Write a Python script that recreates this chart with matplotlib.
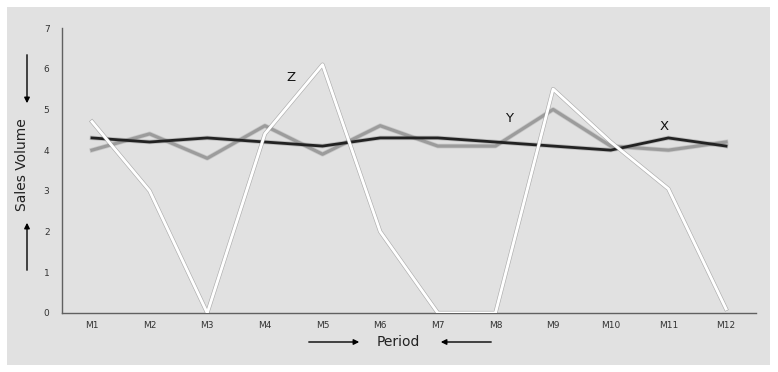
import matplotlib
matplotlib.use("Agg")
import matplotlib.pyplot as plt
import matplotlib.patheffects as pe
from matplotlib.patches import Rectangle, FancyArrowPatch

# Data
months = ['M1', 'M2', 'M3', 'M4', 'M5', 'M6', 'M7', 'M8', 'M9', 'M10', 'M11', 'M12']
x_vals = [4.3, 4.2, 4.3, 4.2, 4.1, 4.3, 4.3, 4.2, 4.1, 4.0, 4.3, 4.1]
y_vals = [4.0, 4.4, 3.8, 4.6, 3.9, 4.6, 4.1, 4.1, 5.0, 4.1, 4.0, 4.2]
z_vals = [4.7, 3.0, 0.0, 4.4, 6.1, 2.0, 0.0, 0.0, 5.5, 4.2, 3.05, 0.1]

pos = list(range(1, len(months) + 1))

fig = plt.figure(figsize=(7.78, 3.72), dpi=100)
fig.patch.set_facecolor('white')
# grey panel behind the chart
fig.add_artist(Rectangle((7 / 778, 1 - 365 / 372), 763 / 778, 358 / 372,
                         transform=fig.transFigure, facecolor='#e1e1e1',
                         edgecolor='none', zorder=-5))

ax = fig.add_axes([62 / 778, 1 - 313 / 372, 694 / 778, 285 / 372])
ax.set_facecolor('none')

ax.plot(pos, x_vals, color='#222222', lw=2.0, zorder=3,
        path_effects=[pe.Stroke(linewidth=3.2, foreground='#777777', alpha=0.35), pe.Normal()])
ax.plot(pos, y_vals, color='#9c9c9c', lw=2.3, zorder=2,
        path_effects=[pe.Stroke(linewidth=3.4, foreground='#b0b0b0', alpha=0.5), pe.Normal()])
ax.plot(pos, z_vals, color='white', lw=2.1, zorder=4,
        path_effects=[pe.Stroke(linewidth=3.0, foreground='#8a8a8a', alpha=0.6), pe.Normal()])

ax.set_xlim(0.48, 12.52)
ax.set_ylim(0, 7)
ax.set_xticks(pos)
ax.set_xticklabels(months, fontsize=6.5, color='#333333')
ax.set_yticks(range(0, 8))
ax.tick_params(axis='y', labelsize=6.5, colors='#333333', length=0, pad=9)
ax.tick_params(axis='x', length=0, pad=6)
for s in ['top', 'right']:
    ax.spines[s].set_visible(False)
for s in ['left', 'bottom']:
    ax.spines[s].set_color('#606060')
    ax.spines[s].set_linewidth(1.0)

# series labels
ax.text(4.45, 5.78, 'Z', fontsize=9.5, ha='center', va='center', color='#111111')
ax.text(8.23, 4.78, 'Y', fontsize=9.5, ha='center', va='center', color='#111111')
ax.text(10.92, 4.58, 'X', fontsize=9.5, ha='center', va='center', color='#111111')

# axis titles with arrows
fig.text(22 / 778, 1 - 165 / 372, 'Sales Volume', rotation=90, fontsize=10,
         ha='center', va='center', color='#222222')
fig.text(398 / 778, 1 - 342 / 372, 'Period', fontsize=10, ha='center', va='center', color='#222222')

arrow = dict(arrowstyle='-|>', color='black', lw=1.0, mutation_scale=8)
fig.add_artist(FancyArrowPatch((27 / 778, 1 - 52 / 372), (27 / 778, 1 - 106 / 372),
                               transform=fig.transFigure, **arrow))
fig.add_artist(FancyArrowPatch((27 / 778, 1 - 273 / 372), (27 / 778, 1 - 220 / 372),
                               transform=fig.transFigure, **arrow))
fig.add_artist(FancyArrowPatch((306 / 778, 1 - 342 / 372), (362 / 778, 1 - 342 / 372),
                               transform=fig.transFigure, **arrow))
fig.add_artist(FancyArrowPatch((494 / 778, 1 - 342 / 372), (438 / 778, 1 - 342 / 372),
                               transform=fig.transFigure, **arrow))

fig.savefig('out.png', dpi=100)
